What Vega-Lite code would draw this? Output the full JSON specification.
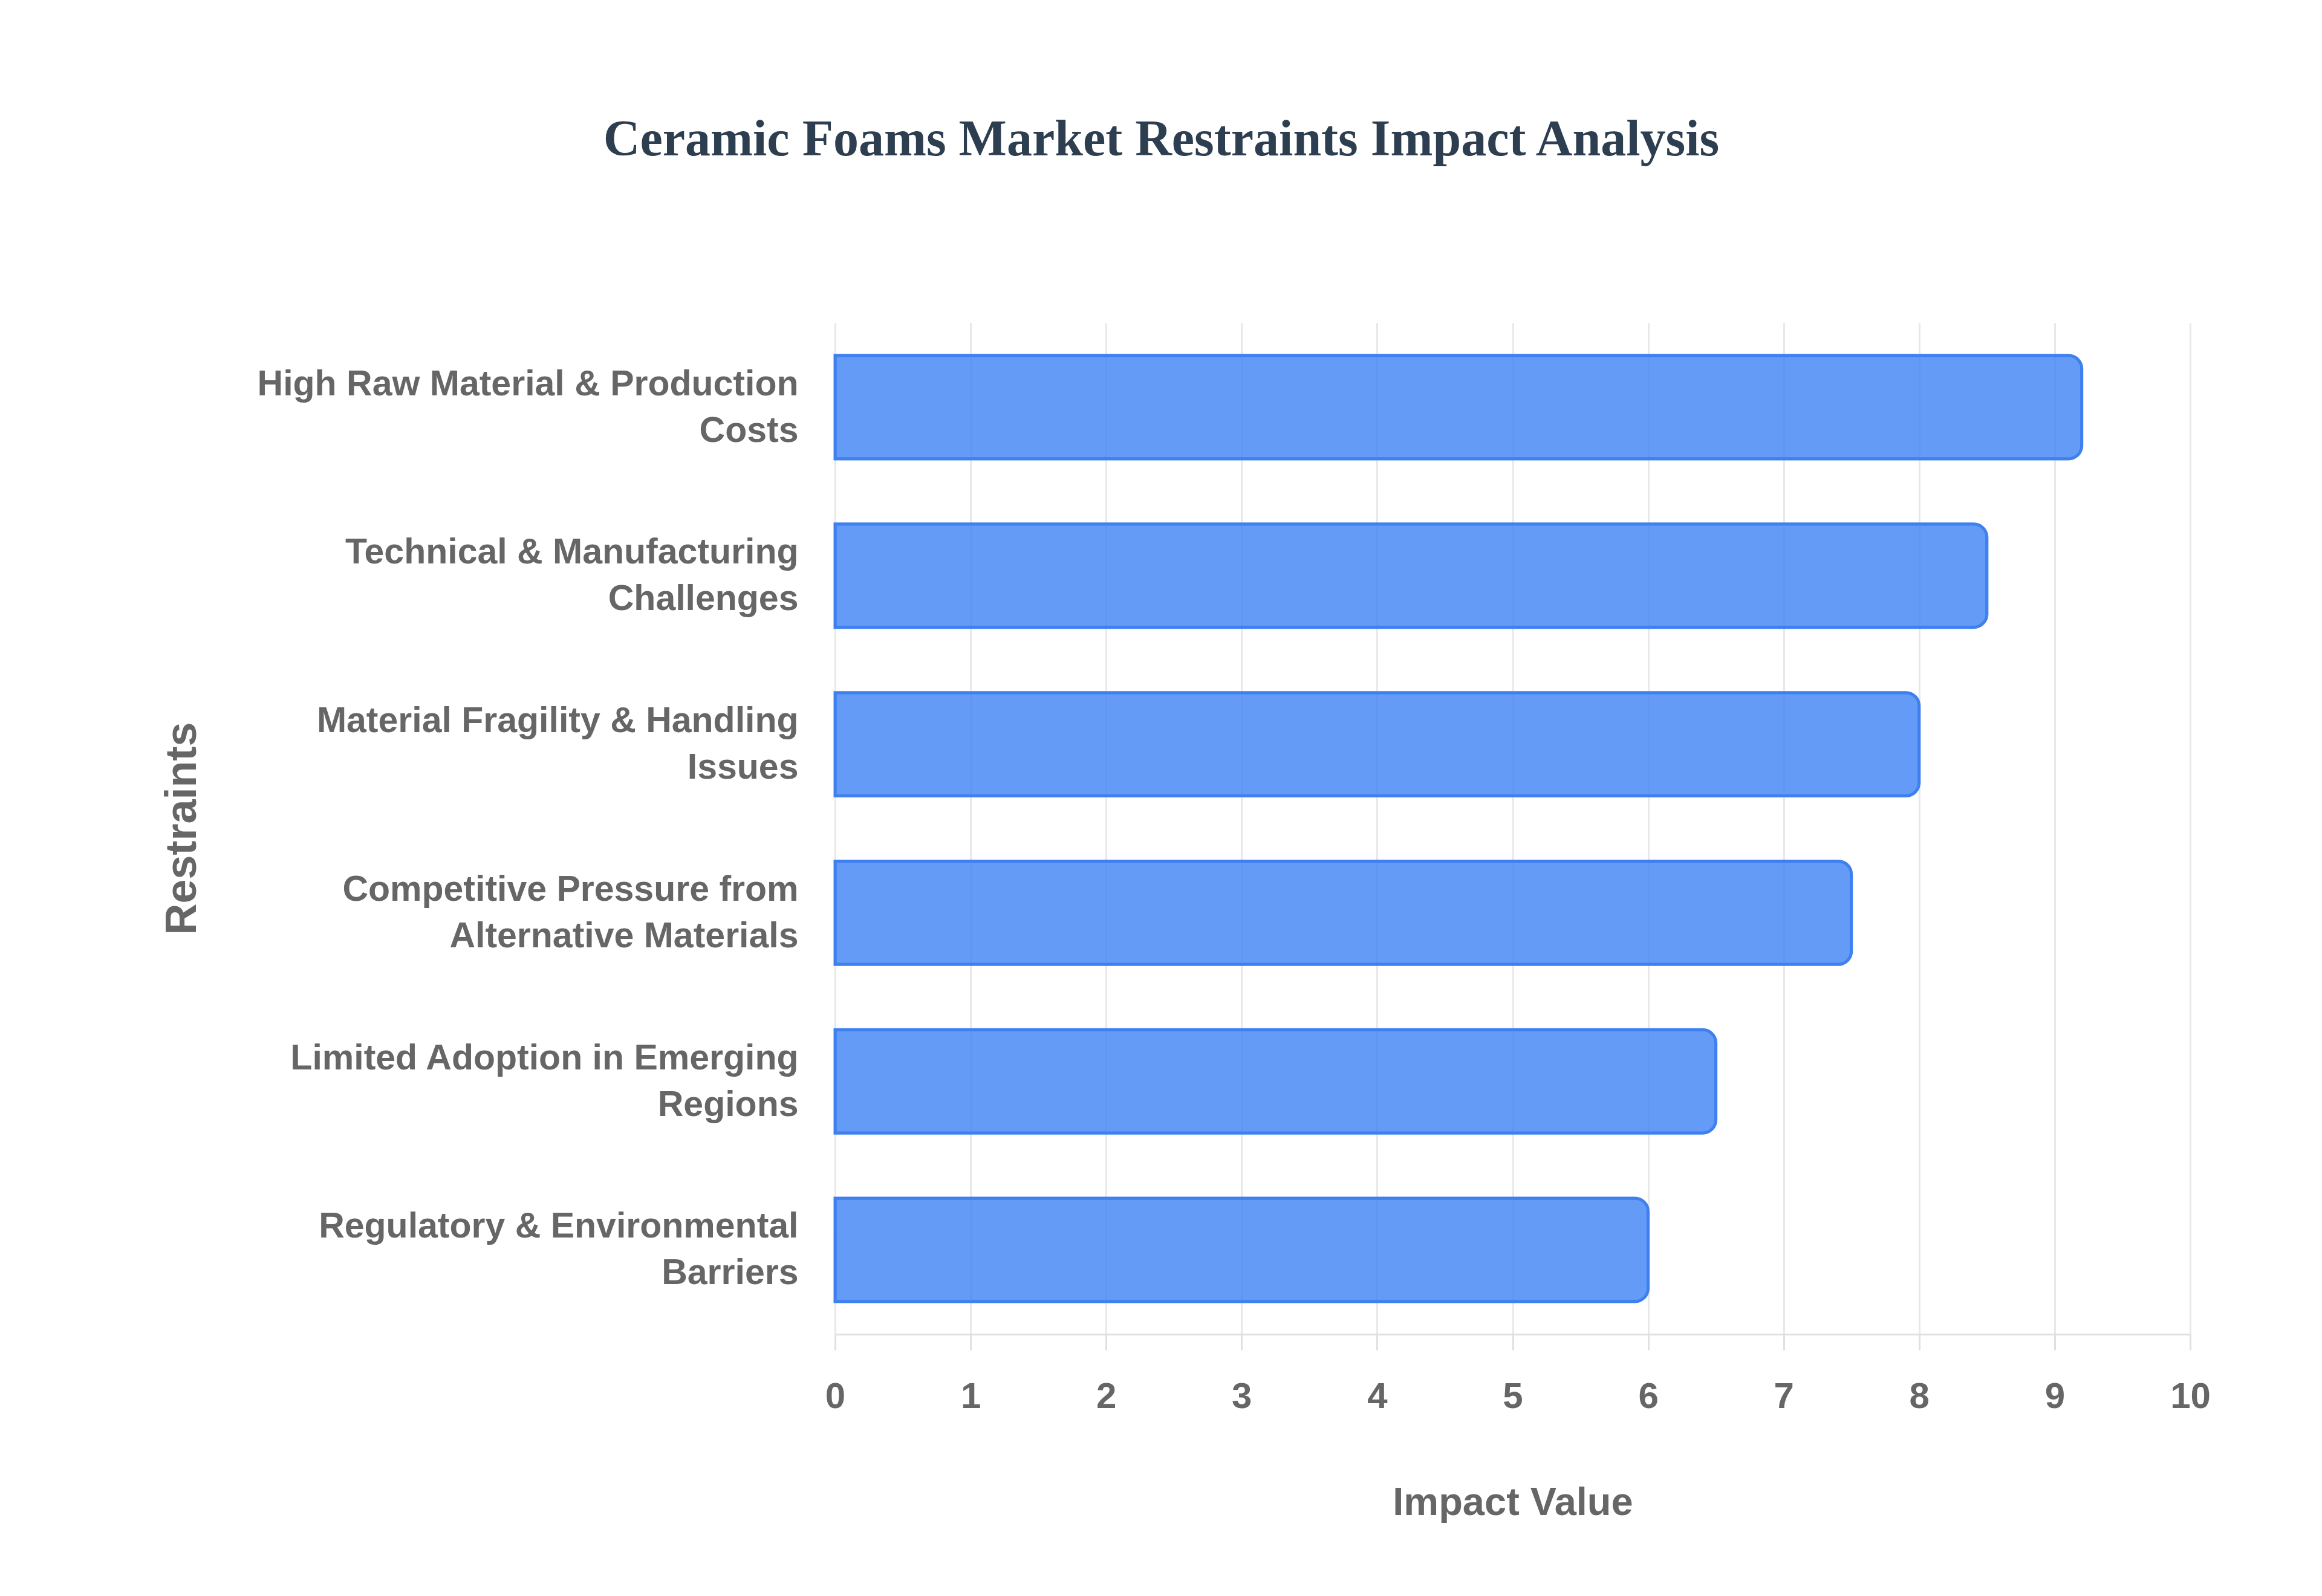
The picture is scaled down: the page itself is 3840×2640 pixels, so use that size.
{
  "$schema": "https://vega.github.io/schema/vega-lite/v6.json",
  "autosize": "none",
  "width": 2241,
  "height": 1673,
  "padding": {"left": 1381, "top": 534, "right": 218, "bottom": 433},
  "background": "white",
  "title": {
    "text": "Ceramic Foams Market Restraints Impact Analysis",
    "font": "Liberation Serif",
    "fontSize": 84,
    "fontWeight": "bold",
    "color": "#2c3e50",
    "anchor": "middle",
    "frame": "group",
    "dx": -581,
    "offset": 193,
    "baseline": "alphabetic"
  },
  "data": {
    "values": [
      {"restraint": "High Raw Material & Production Costs", "impact": 9.2},
      {"restraint": "Technical & Manufacturing Challenges", "impact": 8.5},
      {"restraint": "Material Fragility & Handling Issues", "impact": 8.0},
      {"restraint": "Competitive Pressure from Alternative Materials", "impact": 7.5},
      {"restraint": "Limited Adoption in Emerging Regions", "impact": 6.5},
      {"restraint": "Regulatory & Environmental Barriers", "impact": 6.0}
    ]
  },
  "mark": {
    "type": "bar",
    "fill": "#4285f4",
    "fillOpacity": 0.82,
    "stroke": "#3f80f0",
    "strokeWidth": 5,
    "cornerRadiusEnd": 22
  },
  "encoding": {
    "y": {
      "field": "restraint",
      "type": "nominal",
      "sort": null,
      "scale": {"paddingInner": 0.387, "paddingOuter": 0.194},
      "axis": {
        "title": "Restraints",
        "titleFont": "Liberation Sans",
        "titleFontSize": 72,
        "titleFontWeight": "bold",
        "titleColor": "#666666",
        "titleX": -1080,
        "titleY": 836,
        "titleAngle": 270,
        "titleBaseline": "middle",
        "titleAlign": "center",
        "labelFont": "Liberation Sans",
        "labelFontSize": 59,
        "labelFontWeight": "bold",
        "labelColor": "#666666",
        "labelPadding": 61,
        "labelLimit": 2000,
        "labelLineHeight": 77,
        "labelOffset": -38,
        "labelExpr": "datum.value == 'Competitive Pressure from Alternative Materials' ? ['Competitive Pressure from', 'Alternative Materials'] : [slice(datum.value, 0, lastindexof(datum.value, ' ')), slice(datum.value, lastindexof(datum.value, ' ') + 1)]",
        "domain": false,
        "ticks": false,
        "grid": false
      }
    },
    "x": {
      "field": "impact",
      "type": "quantitative",
      "scale": {"domain": [0, 10], "nice": false},
      "axis": {
        "title": "Impact Value",
        "titleFont": "Liberation Sans",
        "titleFontSize": 65,
        "titleFontWeight": "bold",
        "titleColor": "#666666",
        "titleY": 298,
        "titleBaseline": "alphabetic",
        "values": [0, 1, 2, 3, 4, 5, 6, 7, 8, 9, 10],
        "labelFont": "Liberation Sans",
        "labelFontSize": 60,
        "labelFontWeight": "bold",
        "labelColor": "#666666",
        "labelBaseline": "alphabetic",
        "labelPadding": 95,
        "labelFlush": false,
        "tickSize": 26,
        "tickColor": "#e0e0e0",
        "tickWidth": 3,
        "domainColor": "#e0e0e0",
        "domainWidth": 3,
        "gridColor": "#e8e8e8",
        "gridWidth": 3
      }
    },
    "tooltip": [
      {"field": "restraint", "type": "nominal", "title": "Restraint"},
      {"field": "impact", "type": "quantitative", "title": "Impact Value"}
    ]
  },
  "config": {"view": {"stroke": null}}
}
